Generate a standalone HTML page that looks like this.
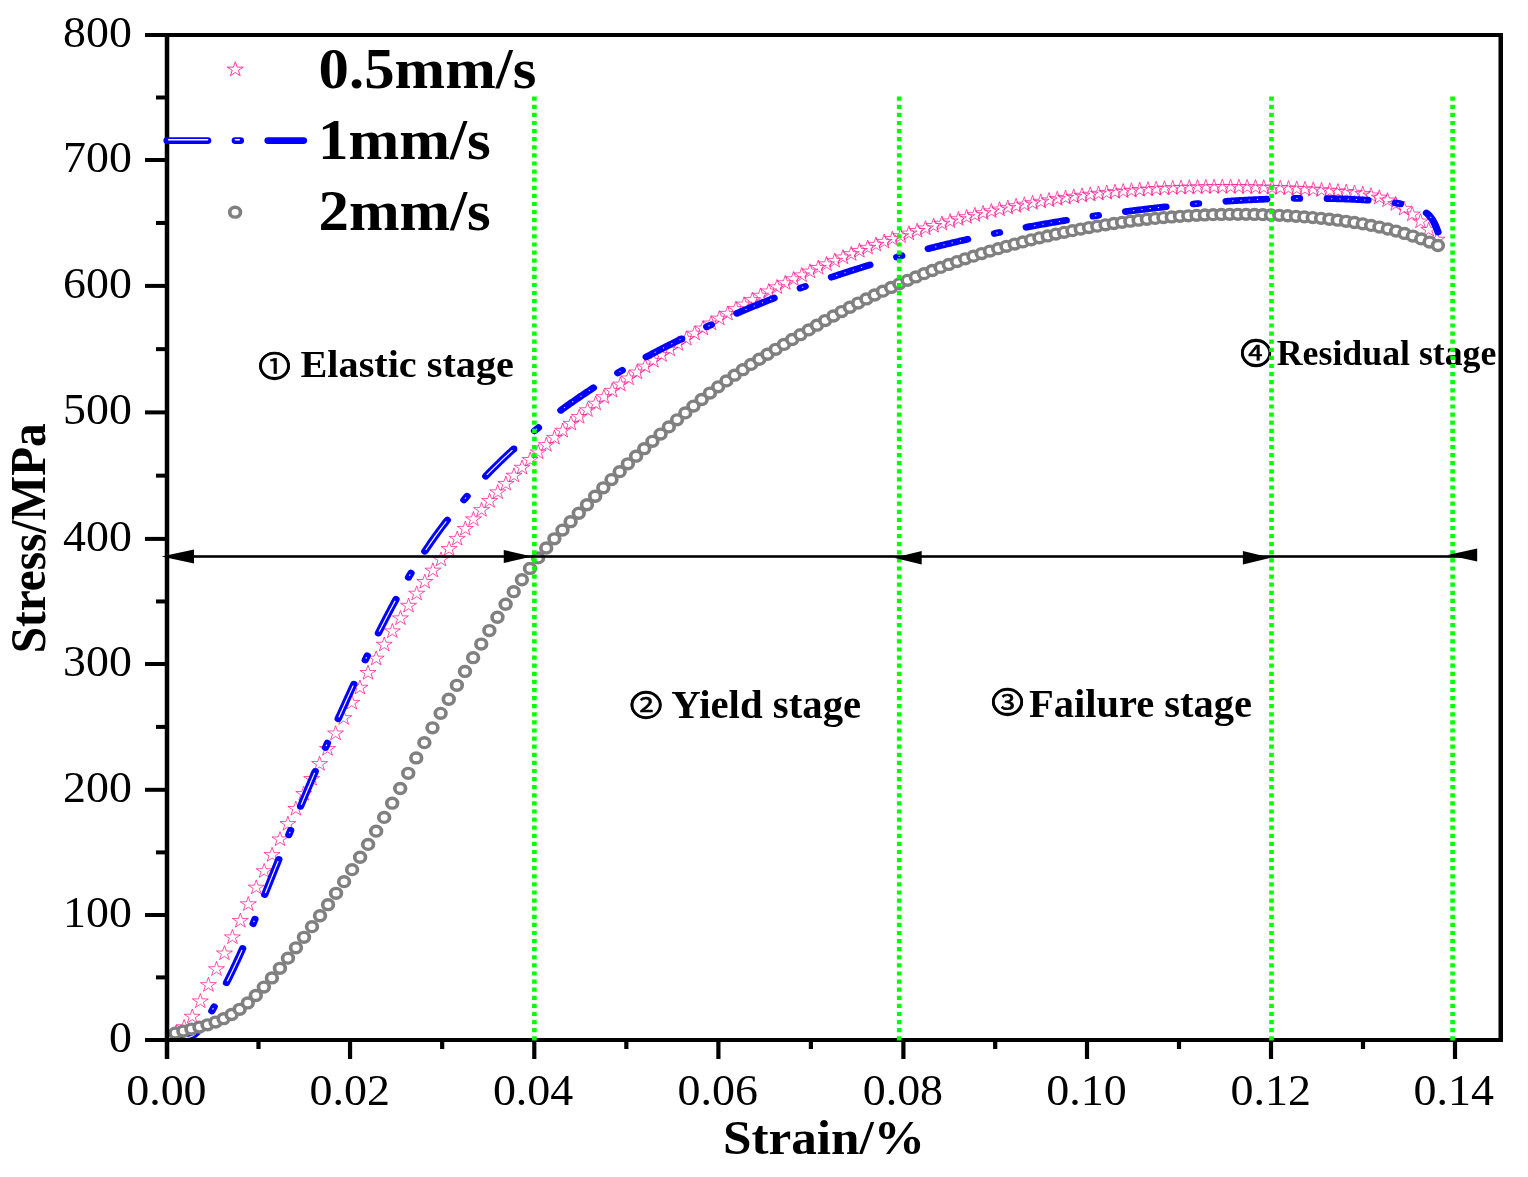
<!DOCTYPE html><html><head><meta charset="utf-8"><title>Stress-strain curves</title><style>html,body{margin:0;padding:0;background:#fff;overflow:hidden}svg{display:block}</style></head><body>
<svg width="1528" height="1177" viewBox="0 0 1528 1177">
<rect x="0" y="0" width="1528" height="1177" fill="#fff"/>
<defs><clipPath id="pc"><rect x="167" y="35" width="1333" height="1005"/></clipPath></defs>
<g clip-path="url(#pc)">
<g transform="scale(1.085 1)">
<path d="M154.84 1029.17 L156.58 1034.53 L162.21 1034.53 L157.65 1037.84 L159.39 1043.19 L154.84 1039.88 L150.28 1043.19 L152.02 1037.84 L147.47 1034.53 L153.1 1034.53Z M162.29 1025.03 L164.03 1030.39 L169.66 1030.39 L165.1 1033.7 L166.84 1039.05 L162.29 1035.74 L157.73 1039.05 L159.47 1033.7 L154.92 1030.39 L160.55 1030.39Z M169.74 1019.41 L171.48 1024.76 L177.11 1024.76 L172.55 1028.07 L174.29 1033.43 L169.74 1030.12 L165.18 1033.43 L166.92 1028.07 L162.37 1024.76 L168 1024.76Z M177.19 1008.96 L178.93 1014.32 L184.56 1014.32 L180 1017.63 L181.74 1022.98 L177.19 1019.67 L172.63 1022.98 L174.37 1017.63 L169.82 1014.32 L175.45 1014.32Z M184.64 993.56 L186.38 998.91 L192.01 998.91 L187.45 1002.22 L189.19 1007.58 L184.64 1004.27 L180.08 1007.58 L181.82 1002.22 L177.27 998.91 L182.9 998.91Z M192.09 977.29 L193.83 982.64 L199.46 982.64 L194.9 985.95 L196.64 991.31 L192.09 988 L187.53 991.31 L189.27 985.95 L184.72 982.64 L190.35 982.64Z M199.54 961.38 L201.28 966.73 L206.91 966.73 L202.35 970.04 L204.09 975.4 L199.54 972.09 L194.98 975.4 L196.72 970.04 L192.17 966.73 L197.8 966.73Z M206.87 945.66 L208.61 951.02 L214.24 951.02 L209.68 954.33 L211.42 959.68 L206.87 956.37 L202.31 959.68 L204.05 954.33 L199.5 951.02 L205.13 951.02Z M214.19 929.55 L215.93 934.91 L221.56 934.91 L217.01 938.22 L218.75 943.57 L214.19 940.26 L209.64 943.57 L211.38 938.22 L206.82 934.91 L212.45 934.91Z M221.52 913.09 L223.26 918.45 L228.89 918.45 L224.34 921.76 L226.08 927.11 L221.52 923.8 L216.97 927.11 L218.71 921.76 L214.15 918.45 L219.78 918.45Z M228.85 896.45 L230.59 901.81 L236.22 901.81 L231.66 905.12 L233.4 910.47 L228.85 907.16 L224.29 910.47 L226.03 905.12 L221.48 901.81 L227.11 901.81Z M236.18 879.8 L237.91 885.16 L243.55 885.16 L238.99 888.47 L240.73 893.82 L236.18 890.51 L231.62 893.82 L233.36 888.47 L228.8 885.16 L234.44 885.16Z M243.47 863.38 L245.21 868.74 L250.84 868.74 L246.29 872.05 L248.03 877.4 L243.47 874.09 L238.92 877.4 L240.66 872.05 L236.1 868.74 L241.73 868.74Z M250.77 847.28 L252.51 852.64 L258.14 852.64 L253.58 855.95 L255.32 861.3 L250.77 857.99 L246.21 861.3 L247.95 855.95 L243.4 852.64 L249.03 852.64Z M258.06 831.59 L259.8 836.94 L265.44 836.94 L260.88 840.25 L262.62 845.61 L258.06 842.3 L253.51 845.61 L255.25 840.25 L250.69 836.94 L256.32 836.94Z M265.36 816.22 L267.1 821.58 L272.73 821.58 L268.18 824.89 L269.92 830.24 L265.36 826.93 L260.81 830.24 L262.55 824.89 L257.99 821.58 L263.62 821.58Z M272.66 801.1 L274.4 806.46 L280.03 806.45 L275.47 809.76 L277.21 815.12 L272.66 811.81 L268.1 815.12 L269.84 809.76 L265.29 806.45 L270.92 806.46Z M279.95 786.12 L281.69 791.48 L287.32 791.48 L282.77 794.79 L284.51 800.14 L279.95 796.83 L275.4 800.14 L277.14 794.79 L272.58 791.48 L278.21 791.48Z M287.25 771.2 L288.99 776.55 L294.62 776.55 L290.07 779.86 L291.81 785.22 L287.25 781.91 L282.7 785.22 L284.44 779.86 L279.88 776.55 L285.51 776.55Z M294.55 756.23 L296.29 761.59 L301.92 761.59 L297.36 764.9 L299.1 770.25 L294.55 766.94 L289.99 770.25 L291.73 764.9 L287.18 761.59 L292.81 761.59Z M301.84 741.17 L303.58 746.53 L309.21 746.53 L304.66 749.84 L306.4 755.19 L301.84 751.88 L297.29 755.19 L299.03 749.84 L294.47 746.53 L300.1 746.53Z M309.32 725.71 L311.06 731.06 L316.69 731.06 L312.13 734.37 L313.87 739.73 L309.32 736.42 L304.76 739.73 L306.5 734.37 L301.94 731.06 L307.58 731.06Z M316.79 710.28 L318.53 715.64 L324.16 715.64 L319.6 718.95 L321.34 724.3 L316.79 720.99 L312.23 724.3 L313.97 718.95 L309.42 715.64 L315.05 715.64Z M324.26 695 L326 700.35 L331.63 700.35 L327.07 703.66 L328.81 709.01 L324.26 705.71 L319.7 709.01 L321.44 703.66 L316.89 700.35 L322.52 700.35Z M331.73 679.93 L333.47 685.28 L339.1 685.28 L334.55 688.59 L336.29 693.95 L331.73 690.64 L327.18 693.95 L328.92 688.59 L324.36 685.28 L329.99 685.28Z M339.2 665.17 L340.94 670.53 L346.57 670.53 L342.02 673.84 L343.76 679.19 L339.2 675.88 L334.65 679.19 L336.39 673.84 L331.83 670.53 L337.46 670.53Z M346.68 650.82 L348.42 656.18 L354.05 656.18 L349.49 659.49 L351.23 664.84 L346.68 661.53 L342.12 664.84 L343.86 659.49 L339.3 656.18 L344.94 656.18Z M354.15 636.93 L355.89 642.29 L361.52 642.29 L356.96 645.6 L358.7 650.95 L354.15 647.64 L349.59 650.95 L351.33 645.6 L346.78 642.29 L352.41 642.29Z M361.62 623.51 L363.36 628.86 L368.99 628.86 L364.43 632.17 L366.17 637.53 L361.62 634.22 L357.06 637.53 L358.8 632.17 L354.25 628.86 L359.88 628.86Z M369.09 610.53 L370.83 615.89 L376.46 615.89 L371.91 619.2 L373.65 624.55 L369.09 621.24 L364.54 624.55 L366.28 619.2 L361.72 615.89 L367.35 615.89Z M376.56 597.99 L378.3 603.34 L383.93 603.34 L379.38 606.65 L381.12 612.01 L376.56 608.7 L372.01 612.01 L373.75 606.65 L369.19 603.34 L374.82 603.34Z M384.04 585.86 L385.78 591.22 L391.41 591.22 L386.85 594.53 L388.59 599.88 L384.04 596.57 L379.48 599.88 L381.22 594.53 L376.66 591.22 L382.3 591.22Z M391.51 574.14 L393.25 579.5 L398.88 579.5 L394.32 582.81 L396.06 588.16 L391.51 584.85 L386.95 588.16 L388.69 582.81 L384.14 579.5 L389.77 579.5Z M398.98 562.81 L400.72 568.17 L406.35 568.17 L401.79 571.48 L403.53 576.83 L398.98 573.52 L394.42 576.83 L396.16 571.48 L391.61 568.17 L397.24 568.17Z M406.45 551.86 L408.19 557.21 L413.82 557.21 L409.27 560.52 L411.01 565.88 L406.45 562.57 L401.9 565.88 L403.64 560.52 L399.08 557.21 L404.71 557.21Z M413.92 541.27 L415.66 546.62 L421.29 546.62 L416.74 549.93 L418.48 555.29 L413.92 551.98 L409.37 555.29 L411.11 549.93 L406.55 546.62 L412.18 546.62Z M421.4 531.02 L423.14 536.38 L428.77 536.38 L424.21 539.69 L425.95 545.04 L421.4 541.73 L416.84 545.04 L418.58 539.69 L414.02 536.38 L419.66 536.38Z M428.87 521.11 L430.61 526.47 L436.24 526.47 L431.68 529.78 L433.42 535.13 L428.87 531.82 L424.31 535.13 L426.05 529.78 L421.5 526.47 L427.13 526.47Z M436.34 511.53 L438.08 516.88 L443.71 516.88 L439.15 520.19 L440.9 525.55 L436.34 522.24 L431.78 525.55 L433.52 520.19 L428.97 516.88 L434.6 516.88Z M443.81 502.24 L445.55 507.6 L451.18 507.6 L446.63 510.91 L448.37 516.26 L443.81 512.95 L439.26 516.26 L441 510.91 L436.44 507.6 L442.07 507.6Z M451.28 493.25 L453.02 498.6 L458.65 498.6 L454.1 501.91 L455.84 507.27 L451.28 503.96 L446.73 507.27 L448.47 501.91 L443.91 498.6 L449.54 498.6Z M458.76 484.53 L460.5 489.89 L466.13 489.89 L461.57 493.2 L463.31 498.55 L458.76 495.24 L454.2 498.55 L455.94 493.2 L451.39 489.89 L457.02 489.89Z M466.23 476.08 L467.97 481.43 L473.6 481.43 L469.04 484.74 L470.78 490.1 L466.23 486.79 L461.67 490.1 L463.41 484.74 L458.86 481.43 L464.49 481.43Z M473.7 467.87 L475.44 473.23 L481.07 473.23 L476.51 476.54 L478.26 481.89 L473.7 478.58 L469.14 481.89 L470.88 476.54 L466.33 473.23 L471.96 473.23Z M481.17 459.9 L482.91 465.26 L488.54 465.26 L483.99 468.57 L485.73 473.92 L481.17 470.61 L476.62 473.92 L478.36 468.57 L473.8 465.26 L479.43 465.26Z M488.64 452.15 L490.38 457.51 L496.01 457.51 L491.46 460.82 L493.2 466.17 L488.64 462.86 L484.09 466.17 L485.83 460.82 L481.27 457.51 L486.9 457.51Z M496.12 444.61 L497.86 449.96 L503.49 449.96 L498.93 453.27 L500.67 458.63 L496.12 455.32 L491.56 458.63 L493.3 453.27 L488.75 449.96 L494.38 449.96Z M503.59 437.25 L505.33 442.61 L510.96 442.61 L506.4 445.92 L508.14 451.27 L503.59 447.96 L499.03 451.27 L500.77 445.92 L496.22 442.61 L501.85 442.61Z M511.06 430.08 L512.8 435.43 L518.43 435.43 L513.88 438.74 L515.62 444.1 L511.06 440.79 L506.5 444.1 L508.24 438.74 L503.69 435.43 L509.32 435.43Z M518.66 422.95 L520.4 428.3 L526.03 428.3 L521.47 431.61 L523.21 436.97 L518.66 433.66 L514.1 436.97 L515.84 431.61 L511.29 428.3 L516.92 428.3Z M526.25 415.97 L527.99 421.33 L533.62 421.33 L529.07 424.64 L530.81 429.99 L526.25 426.68 L521.7 429.99 L523.44 424.64 L518.88 421.33 L524.51 421.33Z M533.85 409.14 L535.59 414.49 L541.22 414.49 L536.67 417.8 L538.41 423.16 L533.85 419.85 L529.29 423.16 L531.04 417.8 L526.48 414.49 L532.11 414.49Z M541.45 402.42 L543.19 407.78 L548.82 407.78 L544.26 411.09 L546 416.44 L541.45 413.13 L536.89 416.44 L538.63 411.09 L534.08 407.78 L539.71 407.78Z M549.04 395.83 L550.78 401.19 L556.41 401.19 L551.86 404.5 L553.6 409.85 L549.04 406.54 L544.49 409.85 L546.23 404.5 L541.67 401.19 L547.3 401.19Z M556.64 389.36 L558.38 394.72 L564.01 394.72 L559.46 398.03 L561.2 403.38 L556.64 400.07 L552.09 403.38 L553.83 398.03 L549.27 394.72 L554.9 394.72Z M564.24 383.01 L565.98 388.36 L571.61 388.36 L567.05 391.67 L568.79 397.03 L564.24 393.72 L559.68 397.03 L561.42 391.67 L556.87 388.36 L562.5 388.36Z M571.83 376.77 L573.57 382.13 L579.2 382.13 L574.65 385.44 L576.39 390.79 L571.83 387.48 L567.28 390.79 L569.02 385.44 L564.46 382.13 L570.09 382.13Z M579.43 370.65 L581.17 376.01 L586.8 376.01 L582.25 379.32 L583.99 384.67 L579.43 381.36 L574.88 384.67 L576.62 379.32 L572.06 376.01 L577.69 376.01Z M587.03 364.65 L588.77 370.01 L594.4 370.01 L589.84 373.32 L591.58 378.67 L587.03 375.36 L582.47 378.67 L584.21 373.32 L579.66 370.01 L585.29 370.01Z M594.62 358.76 L596.36 364.12 L601.99 364.12 L597.44 367.43 L599.18 372.78 L594.62 369.47 L590.07 372.78 L591.81 367.43 L587.25 364.12 L592.88 364.12Z M602.22 352.99 L603.96 358.34 L609.59 358.34 L605.04 361.65 L606.78 367.01 L602.22 363.7 L597.67 367.01 L599.41 361.65 L594.85 358.34 L600.48 358.34Z M609.82 347.33 L611.56 352.68 L617.19 352.68 L612.63 355.99 L614.37 361.35 L609.82 358.04 L605.26 361.35 L607 355.99 L602.45 352.68 L608.08 352.68Z M617.41 341.78 L619.15 347.14 L624.78 347.14 L620.23 350.45 L621.97 355.8 L617.41 352.49 L612.86 355.8 L614.6 350.45 L610.04 347.14 L615.67 347.14Z M625.01 336.34 L626.75 341.7 L632.38 341.7 L627.83 345.01 L629.57 350.36 L625.01 347.05 L620.46 350.36 L622.2 345.01 L617.64 341.7 L623.27 341.7Z M632.61 331.02 L634.35 336.37 L639.98 336.37 L635.42 339.68 L637.16 345.04 L632.61 341.73 L628.05 345.04 L629.79 339.68 L625.24 336.37 L630.87 336.37Z M640.2 325.8 L641.94 331.16 L647.58 331.16 L643.02 334.47 L644.76 339.82 L640.2 336.51 L635.65 339.82 L637.39 334.47 L632.83 331.16 L638.46 331.16Z M647.8 320.69 L649.54 326.05 L655.17 326.05 L650.62 329.36 L652.36 334.71 L647.8 331.4 L643.25 334.71 L644.99 329.36 L640.43 326.05 L646.06 326.05Z M655.4 315.69 L657.14 321.05 L662.77 321.05 L658.21 324.36 L659.95 329.71 L655.4 326.4 L650.84 329.71 L652.58 324.36 L648.03 321.05 L653.66 321.05Z M662.99 310.8 L664.73 316.15 L670.37 316.15 L665.81 319.46 L667.55 324.82 L662.99 321.51 L658.44 324.82 L660.18 319.46 L655.62 316.15 L661.25 316.15Z M670.59 306.01 L672.33 311.37 L677.96 311.37 L673.41 314.68 L675.15 320.03 L670.59 316.72 L666.04 320.03 L667.78 314.68 L663.22 311.37 L668.85 311.37Z M678.19 301.33 L679.93 306.69 L685.56 306.68 L681 309.99 L682.74 315.35 L678.19 312.04 L673.63 315.35 L675.37 309.99 L670.82 306.68 L676.45 306.69Z M685.78 296.75 L687.52 302.11 L693.16 302.11 L688.6 305.42 L690.34 310.77 L685.78 307.46 L681.23 310.77 L682.97 305.42 L678.41 302.11 L684.05 302.11Z M693.38 292.28 L695.12 297.63 L700.75 297.63 L696.2 300.94 L697.94 306.3 L693.38 302.99 L688.83 306.3 L690.57 300.94 L686.01 297.63 L691.64 297.63Z M700.98 287.91 L702.72 293.26 L708.35 293.26 L703.79 296.57 L705.53 301.93 L700.98 298.62 L696.42 301.93 L698.16 296.57 L693.61 293.26 L699.24 293.26Z M708.58 283.64 L710.32 288.99 L715.95 288.99 L711.39 292.3 L713.13 297.66 L708.58 294.35 L704.02 297.66 L705.76 292.3 L701.2 288.99 L706.84 288.99Z M716.17 279.47 L717.91 284.82 L723.54 284.82 L718.99 288.13 L720.73 293.49 L716.17 290.18 L711.62 293.49 L713.36 288.13 L708.8 284.82 L714.43 284.82Z M723.77 275.4 L725.51 280.75 L731.14 280.75 L726.58 284.06 L728.32 289.42 L723.77 286.11 L719.21 289.42 L720.95 284.06 L716.4 280.75 L722.03 280.75Z M731.37 271.43 L733.11 276.78 L738.74 276.78 L734.18 280.09 L735.92 285.45 L731.37 282.14 L726.81 285.45 L728.55 280.09 L723.99 276.78 L729.63 276.78Z M738.96 267.55 L740.7 272.91 L746.33 272.91 L741.78 276.22 L743.52 281.57 L738.96 278.26 L734.41 281.57 L736.15 276.22 L731.59 272.91 L737.22 272.91Z M746.56 263.78 L748.3 269.13 L753.93 269.13 L749.37 272.44 L751.11 277.8 L746.56 274.49 L742 277.8 L743.74 272.44 L739.19 269.13 L744.82 269.13Z M754.16 260.1 L755.9 265.45 L761.53 265.45 L756.97 268.76 L758.71 274.12 L754.16 270.81 L749.6 274.12 L751.34 268.76 L746.78 265.45 L752.42 265.45Z M761.75 256.52 L763.49 261.87 L769.12 261.87 L764.57 265.18 L766.31 270.54 L761.75 267.23 L757.2 270.54 L758.94 265.18 L754.38 261.87 L760.01 261.87Z M769.35 253.03 L771.09 258.38 L776.72 258.38 L772.16 261.69 L773.9 267.05 L769.35 263.74 L764.79 267.05 L766.53 261.69 L761.98 258.38 L767.61 258.38Z M776.95 249.63 L778.69 254.99 L784.32 254.99 L779.76 258.3 L781.5 263.65 L776.95 260.34 L772.39 263.65 L774.13 258.3 L769.58 254.99 L775.21 254.99Z M784.54 246.33 L786.28 251.68 L791.91 251.68 L787.36 254.99 L789.1 260.35 L784.54 257.04 L779.99 260.35 L781.73 254.99 L777.17 251.68 L782.8 251.68Z M792.14 243.12 L793.88 248.47 L799.51 248.47 L794.95 251.78 L796.69 257.14 L792.14 253.83 L787.58 257.14 L789.32 251.78 L784.77 248.47 L790.4 248.47Z M799.74 240 L801.48 245.35 L807.11 245.35 L802.55 248.66 L804.29 254.02 L799.74 250.71 L795.18 254.02 L796.92 248.66 L792.37 245.35 L798 245.35Z M807.33 236.97 L809.07 242.32 L814.7 242.32 L810.15 245.63 L811.89 250.99 L807.33 247.68 L802.78 250.99 L804.52 245.63 L799.96 242.32 L805.59 242.32Z M814.93 234.03 L816.67 239.38 L822.3 239.38 L817.74 242.69 L819.48 248.04 L814.93 244.74 L810.37 248.04 L812.11 242.69 L807.56 239.38 L813.19 239.38Z M822.53 231.17 L824.27 236.53 L829.9 236.53 L825.34 239.84 L827.08 245.19 L822.53 241.88 L817.97 245.19 L819.71 239.84 L815.16 236.53 L820.79 236.53Z M830.12 228.41 L831.86 233.76 L837.49 233.76 L832.94 237.07 L834.68 242.43 L830.12 239.12 L825.57 242.43 L827.31 237.07 L822.75 233.76 L828.38 233.76Z M837.72 225.73 L839.46 231.08 L845.09 231.08 L840.53 234.39 L842.28 239.75 L837.72 236.44 L833.16 239.75 L834.9 234.39 L830.35 231.08 L835.98 231.08Z M845.32 223.13 L847.06 228.49 L852.69 228.49 L848.13 231.8 L849.87 237.15 L845.32 233.84 L840.76 237.15 L842.5 231.8 L837.95 228.49 L843.58 228.49Z M852.91 220.63 L854.65 225.98 L860.28 225.98 L855.73 229.29 L857.47 234.65 L852.91 231.34 L848.36 234.65 L850.1 229.29 L845.54 225.98 L851.17 225.98Z M860.51 218.2 L862.25 223.56 L867.88 223.56 L863.33 226.87 L865.07 232.22 L860.51 228.91 L855.95 232.22 L857.69 226.87 L853.14 223.56 L858.77 223.56Z M868.11 215.86 L869.85 221.22 L875.48 221.21 L870.92 224.52 L872.66 229.88 L868.11 226.57 L863.55 229.88 L865.29 224.52 L860.74 221.21 L866.37 221.22Z M875.7 213.6 L877.44 218.96 L883.07 218.96 L878.52 222.26 L880.26 227.62 L875.7 224.31 L871.15 227.62 L872.89 222.26 L868.33 218.96 L873.96 218.96Z M883.3 211.42 L885.04 216.78 L890.67 216.78 L886.12 220.09 L887.86 225.44 L883.3 222.13 L878.74 225.44 L880.49 220.09 L875.93 216.78 L881.56 216.78Z M890.9 209.32 L892.64 214.68 L898.27 214.68 L893.71 217.99 L895.45 223.34 L890.9 220.03 L886.34 223.34 L888.08 217.99 L883.53 214.68 L889.16 214.68Z M898.49 207.3 L900.23 212.66 L905.86 212.66 L901.31 215.97 L903.05 221.32 L898.49 218.01 L893.94 221.32 L895.68 215.97 L891.12 212.66 L896.75 212.66Z M906.09 205.36 L907.83 210.72 L913.46 210.72 L908.91 214.03 L910.65 219.38 L906.09 216.07 L901.54 219.38 L903.28 214.03 L898.72 210.72 L904.35 210.72Z M913.69 203.5 L915.43 208.86 L921.06 208.86 L916.5 212.17 L918.24 217.52 L913.69 214.21 L909.13 217.52 L910.87 212.17 L906.32 208.86 L911.95 208.86Z M921.28 201.71 L923.02 207.07 L928.65 207.07 L924.1 210.38 L925.84 215.73 L921.28 212.42 L916.73 215.73 L918.47 210.38 L913.91 207.07 L919.54 207.07Z M928.88 200 L930.62 205.36 L936.25 205.36 L931.7 208.67 L933.44 214.02 L928.88 210.71 L924.33 214.02 L926.07 208.67 L921.51 205.36 L927.14 205.36Z M936.48 198.37 L938.22 203.72 L943.85 203.72 L939.29 207.03 L941.03 212.39 L936.48 209.08 L931.92 212.39 L933.66 207.03 L929.11 203.72 L934.74 203.72Z M944.07 196.81 L945.81 202.16 L951.44 202.16 L946.89 205.47 L948.63 210.83 L944.07 207.52 L939.52 210.83 L941.26 205.47 L936.7 202.16 L942.33 202.16Z M951.67 195.32 L953.41 200.67 L959.04 200.67 L954.49 203.98 L956.23 209.34 L951.67 206.03 L947.12 209.34 L948.86 203.98 L944.3 200.67 L949.93 200.67Z M959.27 193.9 L961.01 199.26 L966.64 199.26 L962.08 202.57 L963.82 207.92 L959.27 204.61 L954.71 207.92 L956.45 202.57 L951.9 199.26 L957.53 199.26Z M966.86 192.56 L968.6 197.91 L974.24 197.91 L969.68 201.22 L971.42 206.58 L966.86 203.27 L962.31 206.58 L964.05 201.22 L959.49 197.91 L965.12 197.91Z M974.46 191.28 L976.2 196.64 L981.83 196.64 L977.28 199.95 L979.02 205.3 L974.46 201.99 L969.91 205.3 L971.65 199.95 L967.09 196.64 L972.72 196.64Z M982.06 190.08 L983.8 195.43 L989.43 195.43 L984.87 198.74 L986.61 204.1 L982.06 200.79 L977.5 204.1 L979.24 198.74 L974.69 195.43 L980.32 195.43Z M989.65 188.94 L991.39 194.3 L997.03 194.3 L992.47 197.61 L994.21 202.96 L989.65 199.65 L985.1 202.96 L986.84 197.61 L982.28 194.3 L987.91 194.3Z M997.25 187.87 L998.99 193.23 L1004.62 193.23 L1000.07 196.54 L1001.81 201.89 L997.25 198.58 L992.7 201.89 L994.44 196.54 L989.88 193.23 L995.51 193.23Z M1004.85 186.87 L1006.59 192.23 L1012.22 192.23 L1007.66 195.54 L1009.4 200.89 L1004.85 197.58 L1000.29 200.89 L1002.03 195.54 L997.48 192.23 L1003.11 192.23Z M1012.44 185.94 L1014.18 191.29 L1019.82 191.29 L1015.26 194.6 L1017 199.96 L1012.44 196.65 L1007.89 199.96 L1009.63 194.6 L1005.07 191.29 L1010.71 191.29Z M1020.04 185.07 L1021.78 190.42 L1027.41 190.42 L1022.86 193.73 L1024.6 199.09 L1020.04 195.78 L1015.49 199.09 L1017.23 193.73 L1012.67 190.42 L1018.3 190.42Z M1027.64 184.26 L1029.38 189.61 L1035.01 189.61 L1030.45 192.92 L1032.19 198.28 L1027.64 194.97 L1023.08 198.28 L1024.82 192.92 L1020.27 189.61 L1025.9 189.61Z M1035.24 183.52 L1036.97 188.87 L1042.61 188.87 L1038.05 192.18 L1039.79 197.54 L1035.24 194.23 L1030.68 197.54 L1032.42 192.18 L1027.86 188.87 L1033.5 188.87Z M1042.83 182.84 L1044.57 188.19 L1050.2 188.19 L1045.65 191.5 L1047.39 196.86 L1042.83 193.55 L1038.28 196.86 L1040.02 191.5 L1035.46 188.19 L1041.09 188.19Z M1050.43 182.22 L1052.17 187.57 L1057.8 187.57 L1053.24 190.88 L1054.98 196.24 L1050.43 192.93 L1045.87 196.24 L1047.61 190.88 L1043.06 187.57 L1048.69 187.57Z M1058.03 181.66 L1059.77 187.01 L1065.4 187.01 L1060.84 190.32 L1062.58 195.68 L1058.03 192.37 L1053.47 195.68 L1055.21 190.32 L1050.65 187.01 L1056.29 187.01Z M1065.62 181.16 L1067.36 186.52 L1072.99 186.52 L1068.44 189.83 L1070.18 195.18 L1065.62 191.87 L1061.07 195.18 L1062.81 189.83 L1058.25 186.52 L1063.88 186.52Z M1073.25 180.72 L1074.99 186.07 L1080.62 186.07 L1076.06 189.38 L1077.8 194.74 L1073.25 191.43 L1068.69 194.74 L1070.43 189.38 L1065.87 186.07 L1071.51 186.07Z M1080.87 180.34 L1082.61 185.69 L1088.24 185.69 L1083.68 189 L1085.42 194.36 L1080.87 191.05 L1076.31 194.36 L1078.05 189 L1073.5 185.69 L1079.13 185.69Z M1088.49 180.01 L1090.23 185.37 L1095.86 185.37 L1091.31 188.68 L1093.05 194.03 L1088.49 190.72 L1083.94 194.03 L1085.68 188.68 L1081.12 185.37 L1086.75 185.37Z M1096.12 179.74 L1097.86 185.1 L1103.49 185.1 L1098.93 188.41 L1100.67 193.76 L1096.12 190.45 L1091.56 193.76 L1093.3 188.41 L1088.75 185.1 L1094.38 185.1Z M1103.74 179.53 L1105.48 184.88 L1111.11 184.88 L1106.55 188.19 L1108.29 193.55 L1103.74 190.24 L1099.18 193.55 L1100.92 188.19 L1096.37 184.88 L1102 184.88Z M1111.36 179.37 L1113.1 184.73 L1118.73 184.73 L1114.18 188.03 L1115.92 193.39 L1111.36 190.08 L1106.81 193.39 L1108.55 188.03 L1103.99 184.73 L1109.62 184.73Z M1118.99 179.26 L1120.73 184.62 L1126.36 184.62 L1121.8 187.93 L1123.54 193.28 L1118.99 189.97 L1114.43 193.28 L1116.17 187.93 L1111.62 184.62 L1117.25 184.62Z M1126.61 179.21 L1128.35 184.57 L1133.98 184.57 L1129.42 187.88 L1131.16 193.23 L1126.61 189.92 L1122.05 193.23 L1123.79 187.88 L1119.24 184.57 L1124.87 184.57Z M1134.23 179.21 L1135.97 184.57 L1141.6 184.57 L1137.05 187.88 L1138.79 193.23 L1134.23 189.92 L1129.68 193.23 L1131.42 187.88 L1126.86 184.57 L1132.49 184.57Z M1141.86 179.26 L1143.6 184.62 L1149.23 184.62 L1144.67 187.93 L1146.41 193.28 L1141.86 189.97 L1137.3 193.28 L1139.04 187.93 L1134.49 184.62 L1140.12 184.62Z M1149.48 179.36 L1151.22 184.72 L1156.85 184.72 L1152.3 188.03 L1154.04 193.38 L1149.48 190.07 L1144.92 193.38 L1146.66 188.03 L1142.11 184.72 L1147.74 184.72Z M1157.1 179.51 L1158.84 184.87 L1164.47 184.87 L1159.92 188.18 L1161.66 193.53 L1157.1 190.22 L1152.55 193.53 L1154.29 188.18 L1149.73 184.87 L1155.36 184.87Z M1164.73 179.71 L1166.47 185.07 L1172.1 185.07 L1167.54 188.38 L1169.28 193.73 L1164.73 190.42 L1160.17 193.73 L1161.91 188.38 L1157.36 185.07 L1162.99 185.07Z M1172.35 179.96 L1174.09 185.31 L1179.72 185.31 L1175.17 188.62 L1176.91 193.98 L1172.35 190.67 L1167.79 193.98 L1169.54 188.62 L1164.98 185.31 L1170.61 185.31Z M1179.95 180.25 L1181.69 185.6 L1187.32 185.6 L1182.77 188.91 L1184.51 194.27 L1179.95 190.96 L1175.4 194.27 L1177.14 188.91 L1172.58 185.6 L1178.21 185.6Z M1187.56 180.58 L1189.3 185.94 L1194.93 185.94 L1190.37 189.25 L1192.11 194.6 L1187.56 191.29 L1183 194.6 L1184.74 189.25 L1180.19 185.94 L1185.82 185.94Z M1195.16 180.96 L1196.9 186.32 L1202.53 186.32 L1197.98 189.63 L1199.72 194.98 L1195.16 191.67 L1190.61 194.98 L1192.35 189.63 L1187.79 186.32 L1193.42 186.32Z M1202.76 181.39 L1204.5 186.74 L1210.14 186.74 L1205.58 190.05 L1207.32 195.41 L1202.76 192.1 L1198.21 195.41 L1199.95 190.05 L1195.39 186.74 L1201.03 186.74Z M1210.37 181.85 L1212.11 187.21 L1217.74 187.21 L1213.18 190.52 L1214.92 195.87 L1210.37 192.56 L1205.81 195.87 L1207.55 190.52 L1203 187.21 L1208.63 187.21Z M1217.97 182.36 L1219.71 187.72 L1225.34 187.72 L1220.79 191.03 L1222.53 196.38 L1217.97 193.07 L1213.42 196.38 L1215.16 191.03 L1210.6 187.72 L1216.23 187.72Z M1225.58 182.91 L1227.32 188.27 L1232.95 188.27 L1228.39 191.58 L1230.13 196.93 L1225.58 193.62 L1221.02 196.93 L1222.76 191.58 L1218.21 188.27 L1223.84 188.27Z M1233.18 183.5 L1234.92 188.86 L1240.55 188.86 L1235.99 192.16 L1237.74 197.52 L1233.18 194.21 L1228.62 197.52 L1230.36 192.16 L1225.81 188.86 L1231.44 188.86Z M1240.78 184.15 L1242.52 189.51 L1248.15 189.51 L1243.6 192.82 L1245.34 198.17 L1240.78 194.86 L1236.23 198.17 L1237.97 192.82 L1233.41 189.51 L1239.04 189.51Z M1248.39 184.97 L1250.13 190.33 L1255.76 190.33 L1251.2 193.64 L1252.94 198.99 L1248.39 195.68 L1243.83 198.99 L1245.57 193.64 L1241.02 190.33 L1246.65 190.33Z M1255.99 186.1 L1257.73 191.46 L1263.36 191.46 L1258.81 194.77 L1260.55 200.12 L1255.99 196.81 L1251.44 200.12 L1253.18 194.77 L1248.62 191.46 L1254.25 191.46Z M1263.59 187.67 L1265.33 193.02 L1270.97 193.02 L1266.41 196.33 L1268.15 201.69 L1263.59 198.38 L1259.04 201.69 L1260.78 196.33 L1256.22 193.02 L1261.85 193.02Z M1271.2 189.81 L1272.94 195.16 L1278.57 195.16 L1274.01 198.47 L1275.75 203.83 L1271.2 200.52 L1266.64 203.83 L1268.38 198.47 L1263.83 195.16 L1269.46 195.16Z M1278.8 192.65 L1280.54 198 L1286.17 198 L1281.62 201.31 L1283.36 206.67 L1278.8 203.36 L1274.25 206.67 L1275.99 201.31 L1271.43 198 L1277.06 198Z M1286.41 196.32 L1288.15 201.68 L1293.78 201.68 L1289.22 204.99 L1290.96 210.34 L1286.41 207.03 L1281.85 210.34 L1283.59 204.99 L1279.03 201.68 L1284.67 201.68Z M1294.01 200.97 L1295.75 206.32 L1301.38 206.32 L1296.82 209.63 L1298.56 214.99 L1294.01 211.68 L1289.45 214.99 L1291.19 209.63 L1286.64 206.32 L1292.27 206.32Z M1301.61 206.71 L1303.35 212.07 L1308.98 212.07 L1304.43 215.38 L1306.17 220.73 L1301.61 217.42 L1297.06 220.73 L1298.8 215.38 L1294.24 212.07 L1299.87 212.07Z M1309.22 213.69 L1310.96 219.05 L1316.59 219.05 L1312.03 222.35 L1313.77 227.71 L1309.22 224.4 L1304.66 227.71 L1306.4 222.35 L1301.85 219.05 L1307.48 219.05Z M1316.82 222.03 L1318.56 227.39 L1324.19 227.39 L1319.64 230.7 L1321.38 236.05 L1316.82 232.74 L1312.26 236.05 L1314.01 230.7 L1309.45 227.39 L1315.08 227.39Z M1324.42 231.87 L1326.16 237.23 L1331.79 237.23 L1327.24 240.54 L1328.98 245.89 L1324.42 242.58 L1319.87 245.89 L1321.61 240.54 L1317.05 237.23 L1322.68 237.23Z" fill="none" stroke="#ff1090" stroke-width="0.7" stroke-linejoin="miter"/>
<path d="M168.66 1036.22 L168.66 1036.22 L169.74 1036.75 L170.88 1037.13 L172.06 1037.33 L173.26 1037.32 L174.44 1037.13 L175.59 1036.78 L176.68 1036.29 L177.72 1035.69 L178.71 1035.01 L179.65 1034.26 L180.54 1033.46 L181.38 1032.63M195.23 1011.04 L195.54 1010.43 L196.08 1009.36 L196.62 1008.29 L197.15 1007.21 L197.38 1006.75M208.73 982.81 L208.98 982.28 L209.48 981.18 L209.97 980.09 L210.47 979 L210.97 977.91 L211.46 976.82 L211.96 975.72 L212.45 974.63 L212.94 973.53 L213.43 972.44 L213.92 971.34 L214.4 970.24 L214.89 969.14 L215.37 968.05 L215.85 966.95 L216.33 965.85 L216.81 964.75 L217.29 963.64 L217.76 962.54 L218.23 961.44 L218.71 960.34 L219.17 959.23 L219.64 958.13 L220.11 957.02 L220.57 955.92 L221.04 954.81 L221.5 953.7 L221.96 952.59 L222.42 951.48 L222.87 950.37 L223.33 949.26 L223.67 948.41M233.26 923.72 L233.33 923.54 L233.75 922.42 L234.17 921.29 L234.59 920.17 L234.94 919.22M244 894.56 L244.11 894.26 L244.52 893.13 L244.93 892.01 L245.35 890.88 L245.76 889.75 L246.17 888.63 L246.59 887.5 L247 886.38 L247.42 885.25 L247.83 884.12 L248.25 883 L248.66 881.87 L249.08 880.74 L249.49 879.62 L249.91 878.49 L250.32 877.37 L250.74 876.24 L251.15 875.12 L251.57 873.99 L251.98 872.86 L252.4 871.74 L252.82 870.61 L253.23 869.49 L253.65 868.36 L254.07 867.24 L254.49 866.11 L254.9 864.99 L255.32 863.86 L255.74 862.74 L256.16 861.61 L256.57 860.49 L256.99 859.38M266.2 834.77 L266.25 834.64 L266.68 833.52 L267.1 832.4 L267.52 831.27 L267.9 830.28M277.02 806.33 L277.34 805.48 L277.77 804.36 L278.2 803.24 L278.63 802.12 L279.06 801 L279.5 799.88 L279.93 798.76 L280.36 797.64 L280.79 796.52 L281.22 795.4 L281.66 794.28 L282.09 793.16 L282.52 792.04 L282.95 790.92 L283.39 789.8 L283.82 788.68 L284.26 787.57 L284.69 786.45 L285.13 785.33 L285.56 784.21 L286 783.09 L286.43 781.97 L286.87 780.86 L287.3 779.74 L287.74 778.62 L288.18 777.5 L288.61 776.39 L289.05 775.27 L289.49 774.15 L289.93 773.03 L290.37 771.92 L290.58 771.37M300.03 747.55 L300.1 747.38 L300.54 746.26 L300.99 745.15 L301.44 744.03 L301.82 743.09M311.7 718.77 L311.82 718.46 L312.28 717.35 L312.74 716.24 L313.2 715.13 L313.65 714.03 L314.11 712.92 L314.57 711.81 L315.03 710.7 L315.49 709.59 L315.95 708.48 L316.41 707.37 L316.87 706.27 L317.33 705.16 L317.79 704.05 L318.25 702.94 L318.72 701.84 L319.18 700.73 L319.64 699.62 L320.11 698.51 L320.57 697.41 L321.04 696.3 L321.5 695.2 L321.97 694.09 L322.43 692.98 L322.9 691.88 L323.37 690.77 L323.84 689.67 L324.3 688.56 L324.77 687.46 L325.24 686.35 L325.71 685.25 L326.17 684.18M336.59 660.09 L336.67 659.92 L337.15 658.82 L337.63 657.72 L338.12 656.62 L338.53 655.7M348.74 633.09 L348.98 632.56 L349.49 631.47 L349.99 630.39 L350.5 629.3 L351.01 628.21 L351.51 627.12 L352.02 626.04 L352.53 624.95 L353.04 623.86 L353.56 622.78 L354.07 621.69 L354.58 620.61 L355.1 619.53 L355.61 618.44 L356.13 617.36 L356.65 616.28 L357.17 615.2 L357.69 614.12 L358.21 613.03 L358.74 611.96 L359.26 610.88 L359.79 609.8 L360.31 608.72 L360.84 607.64 L361.37 606.57 L361.9 605.49 L362.44 604.41 L362.97 603.34 L363.5 602.26 L364.04 601.19 L364.58 600.12 L364.99 599.3M376.5 577.32 L376.82 576.73 L377.39 575.68 L377.97 574.62 L378.55 573.57 L378.81 573.11M391.55 551.32 L391.88 550.79 L392.51 549.76 L393.14 548.75 L393.78 547.73 L394.41 546.71 L395.05 545.7 L395.69 544.68 L396.34 543.67 L396.99 542.66 L397.63 541.65 L398.29 540.64 L398.94 539.63 L399.59 538.63 L400.25 537.63 L400.91 536.62 L401.58 535.62 L402.24 534.62 L402.91 533.63 L403.58 532.63 L404.25 531.64 L404.92 530.64 L405.6 529.65 L406.28 528.66 L406.96 527.68 L407.64 526.69 L408.33 525.7 L409.02 524.72 L409.71 523.74 L410.4 522.76 L411.1 521.78 L411.79 520.81 L412.3 520.1M427.53 499.98 L427.71 499.75 L428.46 498.81 L429.21 497.88 L429.97 496.94 L430.54 496.24M447.66 476.15 L447.86 475.93 L448.66 475.03 L449.46 474.14 L450.26 473.25 L451.07 472.36 L451.87 471.47 L452.68 470.58 L453.49 469.7 L454.3 468.82 L455.12 467.93 L455.93 467.05 L456.75 466.18 L457.57 465.3 L458.39 464.42 L459.22 463.55 L460.04 462.68 L460.87 461.81 L461.69 460.94 L462.52 460.07 L463.36 459.21 L464.19 458.35 L465.02 457.48 L465.86 456.62 L466.7 455.77 L467.54 454.91 L468.38 454.05 L469.23 453.2 L470.07 452.35 L470.92 451.5 L471.77 450.65 L472.62 449.81 L473.47 448.96 L473.48 448.96M492.68 430.86 L492.68 430.86 L493.58 430.06 L494.47 429.26 L495.37 428.46 L496.27 427.67M516.92 410.3 L517.4 409.92 L518.34 409.17 L519.28 408.42 L520.22 407.68 L521.17 406.94 L522.11 406.2 L523.06 405.46 L524.01 404.73 L524.95 403.99 L525.91 403.26 L526.86 402.53 L527.81 401.8 L528.77 401.08 L529.73 400.35 L530.69 399.63 L531.65 398.91 L532.61 398.2 L533.57 397.48 L534.54 396.77 L535.5 396.06 L536.47 395.35 L537.44 394.64 L538.41 393.93 L539.38 393.23 L540.36 392.53 L541.33 391.83 L542.31 391.13 L543.29 390.44 L544.27 389.74 L545.25 389.05 L546.23 388.36 L546.95 387.86M569.4 372.89 L570.19 372.39 L571.2 371.75 L572.22 371.11 L573.24 370.47 L573.46 370.33M595.59 356.98 L595.84 356.83 L596.88 356.23 L597.92 355.63 L598.96 355.03 L600 354.43 L601.04 353.84 L602.08 353.24 L603.12 352.65 L604.17 352.06 L605.21 351.46 L606.26 350.87 L607.3 350.29 L608.35 349.7 L609.39 349.11 L610.44 348.53 L611.49 347.94 L612.54 347.36 L613.59 346.78 L614.64 346.2 L615.69 345.62 L616.74 345.04 L617.79 344.46 L618.85 343.89 L619.9 343.31 L620.96 342.74 L622.01 342.17 L623.07 341.6 L624.12 341.03 L625.18 340.46 L626.24 339.89 L627.29 339.33 L628.35 338.76 L628.36 338.76M651.31 326.87 L651.8 326.63 L652.87 326.09 L653.94 325.55 L655.02 325.02 L655.6 324.73M679.18 313.37 L679.88 313.04 L680.97 312.53 L682.06 312.03 L683.15 311.52 L684.24 311.02 L685.33 310.52 L686.42 310.02 L687.51 309.52 L688.6 309.02 L689.69 308.52 L690.79 308.03 L691.88 307.53 L692.97 307.04 L694.07 306.55 L695.16 306.06 L696.26 305.57 L697.36 305.08 L698.45 304.59 L699.55 304.11 L700.65 303.62 L701.75 303.14 L702.84 302.66 L703.94 302.18 L705.04 301.7 L706.14 301.22 L707.25 300.74 L708.35 300.27 L709.45 299.79 L710.55 299.32 L711.66 298.85 L712.76 298.38 L713.43 298.09M737.63 288.14 L738.28 287.88 L739.4 287.44 L740.52 287 L741.63 286.56 L742.1 286.38M766.35 277.2 L767.45 276.8 L768.58 276.39 L769.7 275.98 L770.83 275.57 L771.96 275.16 L773.09 274.76 L774.22 274.35 L775.35 273.95 L776.48 273.55 L777.61 273.15 L778.75 272.75 L779.88 272.35 L781.01 271.96 L782.14 271.56 L783.28 271.17 L784.41 270.77 L785.54 270.38 L786.68 269.99 L787.81 269.6 L788.95 269.21 L790.09 268.83 L791.22 268.44 L792.36 268.06 L793.5 267.67 L794.63 267.29 L795.77 266.91 L796.91 266.53 L798.05 266.15 L799.19 265.77 L800.33 265.4 L801.47 265.02 L801.78 264.92M826.5 257.11 L826.64 257.07 L827.79 256.72 L828.94 256.38 L830.09 256.03 L831.1 255.73M855.52 248.7 L856.61 248.4 L857.77 248.09 L858.93 247.77 L860.08 247.45 L861.24 247.14 L862.4 246.82 L863.56 246.51 L864.72 246.2 L865.88 245.89 L867.04 245.58 L868.2 245.27 L869.36 244.97 L870.52 244.66 L871.68 244.36 L872.84 244.05 L874 243.75 L875.16 243.45 L876.32 243.15 L877.49 242.85 L878.65 242.55 L879.81 242.26 L880.97 241.96 L882.14 241.67 L883.3 241.37 L884.46 241.08 L885.63 240.79 L886.79 240.5 L887.96 240.21 L889.12 239.92 L890.29 239.64 L891.45 239.35 L891.81 239.26M916.55 233.47 L917.16 233.33 L918.33 233.07 L919.5 232.81 L920.67 232.55 L921.24 232.43M945.86 227.23 L946.5 227.1 L947.68 226.86 L948.86 226.63 L950.03 226.4 L951.21 226.16 L952.39 225.93 L953.56 225.7 L954.74 225.47 L955.92 225.24 L957.1 225.01 L958.28 224.78 L959.46 224.56 L960.63 224.33 L961.81 224.11 L962.99 223.88 L964.17 223.66 L965.35 223.44 L966.53 223.22 L967.71 223 L968.89 222.78 L970.07 222.56 L971.25 222.34 L972.43 222.13 L973.61 221.91 L974.79 221.7 L975.97 221.48 L977.15 221.27 L978.33 221.06 L979.52 220.85 L980.7 220.64 L981.88 220.43 L982.71 220.28M1007.54 216.12 L1007.91 216.06 L1009.1 215.87 L1010.28 215.68 L1011.47 215.5 L1012.28 215.37M1037.44 211.61 L1037.58 211.59 L1038.77 211.42 L1039.96 211.25 L1041.14 211.09 L1042.33 210.92 L1043.52 210.76 L1044.71 210.59 L1045.9 210.43 L1047.09 210.27 L1048.28 210.1 L1049.47 209.94 L1050.65 209.78 L1051.84 209.62 L1053.03 209.46 L1054.22 209.31 L1055.41 209.15 L1056.6 208.99 L1057.79 208.84 L1058.98 208.69 L1060.17 208.53 L1061.36 208.38 L1062.55 208.23 L1063.74 208.08 L1064.93 207.93 L1066.13 207.78 L1067.32 207.63 L1068.51 207.49 L1069.7 207.34 L1070.89 207.19 L1072.08 207.05 L1073.27 206.91 L1074.46 206.77 L1074.62 206.75M1099.92 203.97 L1100.71 203.9 L1101.9 203.78 L1103.1 203.66 L1104.29 203.54 L1104.69 203.51M1130.08 201.32 L1130.59 201.28 L1131.79 201.19 L1132.99 201.11 L1134.18 201.02 L1135.38 200.93 L1136.58 200.85 L1137.77 200.77 L1138.97 200.69 L1140.17 200.61 L1141.37 200.53 L1142.56 200.45 L1143.76 200.37 L1144.96 200.3 L1146.16 200.23 L1147.35 200.15 L1148.55 200.08 L1149.75 200.01 L1150.95 199.95 L1152.15 199.88 L1153.34 199.81 L1154.54 199.75 L1155.74 199.69 L1156.94 199.63 L1158.14 199.57 L1159.34 199.51 L1160.54 199.45 L1161.73 199.39 L1162.93 199.34 L1164.13 199.29 L1165.33 199.24 L1166.53 199.19 L1167.52 199.14M1192.99 198.45 L1194.12 198.44 L1195.32 198.42 L1196.52 198.41 L1197.72 198.4 L1197.79 198.4M1223.3 198.55 L1224.12 198.57 L1225.32 198.59 L1226.52 198.62 L1227.72 198.65 L1228.92 198.68 L1230.11 198.72 L1231.31 198.75 L1232.51 198.79 L1233.71 198.83 L1234.91 198.87 L1236.11 198.91 L1237.31 198.95 L1238.51 199 L1239.71 199.05 L1240.91 199.1 L1242.11 199.15 L1243.31 199.2 L1244.5 199.26 L1245.7 199.31 L1246.9 199.37 L1248.1 199.43 L1249.3 199.49 L1250.5 199.56 L1251.69 199.62 L1252.89 199.69 L1254.09 199.76 L1255.29 199.83 L1256.49 199.9 L1257.68 199.98 L1258.88 200.05 L1260.08 200.13 L1260.76 200.18M1286.12 202.88 L1286.32 202.91 L1287.5 203.13 L1288.68 203.35 L1289.85 203.59 L1290.83 203.8M1314.7 212.96 L1315.35 213.52 L1316.22 214.36 L1317.03 215.24 L1317.8 216.16 L1318.52 217.12 L1319.2 218.11 L1319.83 219.13 L1320.43 220.16 L1321 221.22 L1321.54 222.29 L1322.05 223.38 L1322.54 224.47 L1323.01 225.58 L1323.45 226.7 L1323.88 227.82 L1324.28 228.95 L1324.68 230.08 L1325.06 231.22 L1325.35 232.11" fill="none" stroke="#0000ff" stroke-width="6.7" stroke-linecap="round" stroke-linejoin="round"/>
<path d="M168.66 1036.22 L168.66 1036.22 L169.74 1036.75 L170.88 1037.13 L172.06 1037.33 L173.26 1037.32 L174.44 1037.13 L175.59 1036.78 L176.68 1036.29 L177.72 1035.69 L178.71 1035.01 L179.65 1034.26 L180.23 1033.74M196 1009.52 L196.08 1009.36 L196.39 1008.74 L196.63 1008.27M209.4 981.35 L209.48 981.18 L209.97 980.09 L210.47 979 L210.97 977.91 L211.46 976.82 L211.96 975.72 L212.45 974.63 L212.94 973.53 L213.43 972.44 L213.92 971.34 L214.4 970.24 L214.89 969.14 L215.37 968.05 L215.85 966.95 L216.33 965.85 L216.81 964.75 L217.29 963.64 L217.76 962.54 L218.23 961.44 L218.71 960.34 L219.17 959.23 L219.64 958.13 L220.11 957.02 L220.57 955.92 L221.04 954.81 L221.5 953.7 L221.96 952.59 L222.42 951.48 L222.87 950.37 L223.07 949.9M233.86 922.12 L233.89 922.04 L234.13 921.38 L234.35 920.81M244.55 893.05 L244.93 892.01 L245.35 890.88 L245.76 889.75 L246.17 888.63 L246.59 887.5 L247 886.38 L247.42 885.25 L247.83 884.12 L248.25 883 L248.66 881.87 L249.08 880.74 L249.49 879.62 L249.91 878.49 L250.32 877.37 L250.74 876.24 L251.15 875.12 L251.57 873.99 L251.98 872.86 L252.4 871.74 L252.82 870.61 L253.23 869.49 L253.65 868.36 L254.07 867.24 L254.49 866.11 L254.9 864.99 L255.32 863.86 L255.74 862.74 L256.16 861.61 L256.43 860.88M266.8 833.18 L266.96 832.77 L267.21 832.11 L267.3 831.87M277.59 804.84 L277.77 804.36 L278.2 803.24 L278.63 802.12 L279.06 801 L279.5 799.88 L279.93 798.76 L280.36 797.64 L280.79 796.52 L281.22 795.4 L281.66 794.28 L282.09 793.16 L282.52 792.04 L282.95 790.92 L283.39 789.8 L283.82 788.68 L284.26 787.57 L284.69 786.45 L285.13 785.33 L285.56 784.21 L286 783.09 L286.43 781.97 L286.87 780.86 L287.3 779.74 L287.74 778.62 L288.18 777.5 L288.61 776.39 L289.05 775.27 L289.49 774.15 L289.93 773.03 L290 772.86M300.66 745.97 L300.92 745.33 L301.18 744.68 L301.18 744.67M312.31 717.29 L312.74 716.24 L313.2 715.13 L313.65 714.03 L314.11 712.92 L314.57 711.81 L315.03 710.7 L315.49 709.59 L315.95 708.48 L316.41 707.37 L316.87 706.27 L317.33 705.16 L317.79 704.05 L318.25 702.94 L318.72 701.84 L319.18 700.73 L319.64 699.62 L320.11 698.51 L320.57 697.41 L321.04 696.3 L321.5 695.2 L321.97 694.09 L322.43 692.98 L322.9 691.88 L323.37 690.77 L323.84 689.67 L324.3 688.56 L324.77 687.46 L325.24 686.35 L325.54 685.65M337.28 658.53 L337.43 658.18 L337.71 657.54 L337.84 657.25M349.41 631.64 L349.49 631.47 L349.99 630.39 L350.5 629.3 L351.01 628.21 L351.51 627.12 L352.02 626.04 L352.53 624.95 L353.04 623.86 L353.56 622.78 L354.07 621.69 L354.58 620.61 L355.1 619.53 L355.61 618.44 L356.13 617.36 L356.65 616.28 L357.17 615.2 L357.69 614.12 L358.21 613.03 L358.74 611.96 L359.26 610.88 L359.79 609.8 L360.31 608.72 L360.84 607.64 L361.37 606.57 L361.9 605.49 L362.44 604.41 L362.97 603.34 L363.5 602.26 L364.04 601.19 L364.27 600.73M377.31 575.83 L377.39 575.68 L377.73 575.06 L377.99 574.6M392.39 549.96 L392.51 549.76 L393.14 548.75 L393.78 547.73 L394.41 546.71 L395.05 545.7 L395.69 544.68 L396.34 543.67 L396.99 542.66 L397.63 541.65 L398.29 540.64 L398.94 539.63 L399.59 538.63 L400.25 537.63 L400.91 536.62 L401.58 535.62 L402.24 534.62 L402.91 533.63 L403.58 532.63 L404.25 531.64 L404.92 530.64 L405.6 529.65 L406.28 528.66 L406.96 527.68 L407.64 526.69 L408.33 525.7 L409.02 524.72 L409.71 523.74 L410.4 522.76 L411.1 521.78 L411.37 521.4M428.59 498.65 L428.9 498.27 L429.34 497.72 L429.47 497.56M448.72 474.96 L449.46 474.14 L450.26 473.25 L451.07 472.36 L451.87 471.47 L452.68 470.58 L453.49 469.7 L454.3 468.82 L455.12 467.93 L455.93 467.05 L456.75 466.18 L457.57 465.3 L458.39 464.42 L459.22 463.55 L460.04 462.68 L460.87 461.81 L461.69 460.94 L462.52 460.07 L463.36 459.21 L464.19 458.35 L465.02 457.48 L465.86 456.62 L466.7 455.77 L467.54 454.91 L468.38 454.05 L469.23 453.2 L470.07 452.35 L470.92 451.5 L471.77 450.65 L472.34 450.09M493.95 429.73 L494.4 429.32 L494.92 428.86 L494.99 428.8" fill="none" stroke="#fff" stroke-width="1.1"/>
<path d="M519.84 407.98 L519.91 407.93 L520.3 407.62 L520.69 407.31 L520.71 407.3M527.44 402.09 L527.81 401.8 L528.21 401.5 L528.32 401.42M535.04 396.4 L535.42 396.12 L535.83 395.82 L535.93 395.74M542.64 390.9 L542.72 390.84 L543.12 390.55 L543.53 390.26 L543.54 390.26M603.44 352.47 L603.56 352.4 L603.99 352.15 L604.4 351.92M611.04 348.19 L611.4 347.99 L611.84 347.75 L612 347.66M618.64 344 L618.85 343.89 L619.29 343.65 L619.61 343.47M626.24 339.89 L626.32 339.84 L626.76 339.61 L627.21 339.37 L627.21 339.37M687.06 309.73 L687.24 309.64 L687.69 309.44 L688.06 309.27M694.66 306.28 L694.98 306.14 L695.44 305.94 L695.66 305.84M702.26 302.92 L702.3 302.9 L702.75 302.7 L703.21 302.5 L703.27 302.47M709.86 299.62 L710.09 299.52 L710.55 299.32 L710.87 299.18M770.68 275.62 L771.02 275.5 L771.49 275.33 L771.72 275.25M778.28 272.91 L778.56 272.82 L779.03 272.65 L779.32 272.55M785.89 270.26 L786.11 270.19 L786.58 270.02 L786.93 269.91M793.49 267.68 L793.69 267.61 L794.16 267.45 L794.53 267.32M861.91 246.96 L862.11 246.9 L862.59 246.77 L862.97 246.67M869.51 244.93 L869.84 244.84 L870.32 244.71 L870.58 244.65M877.12 242.95 L877.58 242.83 L878.07 242.7 L878.18 242.67M884.72 241.02 L884.85 240.98 L885.34 240.86 L885.79 240.75M953.15 225.78 L953.17 225.78 L953.66 225.68 L954.15 225.58 L954.23 225.57M960.75 224.31 L961.03 224.25 L961.52 224.16 L961.83 224.1M968.35 222.88 L968.4 222.87 L968.89 222.78 L969.38 222.69 L969.43 222.68M975.96 221.49 L976.27 221.43 L976.76 221.34 L977.04 221.29M1044.39 210.64 L1044.41 210.63 L1044.91 210.56 L1045.4 210.5 L1045.48 210.49M1051.99 209.6 L1052.34 209.56 L1052.83 209.49 L1053.08 209.46M1059.59 208.61 L1059.78 208.58 L1060.27 208.52 L1060.68 208.47M1067.2 207.65 L1067.22 207.64 L1067.71 207.58 L1068.21 207.52 L1068.29 207.51M1135.63 200.92 L1135.88 200.9 L1136.38 200.86 L1136.72 200.84M1143.23 200.41 L1143.36 200.4 L1143.86 200.37 L1144.33 200.34M1150.83 199.95 L1150.85 199.95 L1151.35 199.92 L1151.85 199.9 L1151.93 199.89M1158.44 199.55 L1158.84 199.53 L1159.34 199.51 L1159.54 199.5M1226.87 198.63 L1227.32 198.64 L1227.82 198.65 L1227.97 198.66M1234.47 198.85 L1234.81 198.87 L1235.31 198.88 L1235.57 198.89M1242.08 199.15 L1242.31 199.16 L1242.81 199.18 L1243.18 199.2M1249.68 199.51 L1249.8 199.52 L1250.3 199.55 L1250.78 199.57M1257.29 199.95 L1257.78 199.98 L1258.28 200.02 L1258.38 200.02M1318.34 216.88 L1318.4 216.96 L1318.69 217.36 L1318.97 217.78 L1318.97 217.78M570.96 371.9 L571.37 371.64 L571.8 371.38 L571.89 371.31M652.96 326.04 L653.41 325.82 L653.86 325.6 L653.95 325.55M739.35 287.46 L739.68 287.33 L740.14 287.15 L740.37 287.06M828.28 256.58 L828.46 256.52 L828.94 256.38 L829.33 256.26M918.36 233.06 L918.43 233.05 L918.91 232.94 L919.4 232.83 L919.43 232.83M1009.36 215.83 L1009.79 215.76 L1010.28 215.68 L1010.45 215.66M1101.76 203.79 L1102 203.77 L1102.5 203.72 L1102.85 203.68M1194.84 198.43 L1195.32 198.42 L1195.82 198.42 L1195.94 198.42M1287.94 203.21 L1288.09 203.24 L1288.58 203.33 L1289.02 203.42" fill="none" stroke="#fff" stroke-width="1.0" stroke-opacity="0.9"/>
<g fill="#fff" stroke="#808080" stroke-width="3.4"><circle cx="161.57" cy="1033.11" r="4.95"/><circle cx="168.99" cy="1031.04" r="4.95"/><circle cx="176.41" cy="1029.09" r="4.95"/><circle cx="183.82" cy="1027.07" r="4.95"/><circle cx="191.24" cy="1024.79" r="4.95"/><circle cx="198.66" cy="1022.06" r="4.95"/><circle cx="206.08" cy="1018.7" r="4.95"/><circle cx="213.5" cy="1014.51" r="4.95"/><circle cx="220.92" cy="1009.31" r="4.95"/><circle cx="228.34" cy="1002.94" r="4.95"/><circle cx="235.76" cy="995.48" r="4.95"/><circle cx="243.18" cy="987.1" r="4.95"/><circle cx="250.6" cy="977.97" r="4.95"/><circle cx="257.99" cy="968.28" r="4.95"/><circle cx="265.38" cy="958.17" r="4.95"/><circle cx="272.77" cy="947.8" r="4.95"/><circle cx="280.16" cy="937.29" r="4.95"/><circle cx="287.56" cy="926.63" r="4.95"/><circle cx="294.95" cy="915.77" r="4.95"/><circle cx="302.34" cy="904.68" r="4.95"/><circle cx="309.73" cy="893.32" r="4.95"/><circle cx="317.12" cy="881.65" r="4.95"/><circle cx="324.51" cy="869.64" r="4.95"/><circle cx="331.9" cy="857.24" r="4.95"/><circle cx="339.29" cy="844.41" r="4.95"/><circle cx="346.68" cy="831.15" r="4.95"/><circle cx="354.08" cy="817.41" r="4.95"/><circle cx="361.47" cy="803.2" r="4.95"/><circle cx="368.86" cy="788.48" r="4.95"/><circle cx="376.25" cy="773.3" r="4.95"/><circle cx="383.64" cy="757.96" r="4.95"/><circle cx="391.13" cy="742.64" r="4.95"/><circle cx="398.62" cy="727.79" r="4.95"/><circle cx="406.1" cy="713.36" r="4.95"/><circle cx="413.59" cy="699.24" r="4.95"/><circle cx="421.08" cy="685.29" r="4.95"/><circle cx="428.56" cy="671.44" r="4.95"/><circle cx="436.05" cy="657.68" r="4.95"/><circle cx="443.54" cy="644.04" r="4.95"/><circle cx="451.03" cy="630.54" r="4.95"/><circle cx="458.51" cy="617.24" r="4.95"/><circle cx="466" cy="604.25" r="4.95"/><circle cx="473.49" cy="591.7" r="4.95"/><circle cx="480.98" cy="579.73" r="4.95"/><circle cx="488.46" cy="568.45" r="4.95"/><circle cx="495.95" cy="557.88" r="4.95"/><circle cx="503.44" cy="548.01" r="4.95"/><circle cx="510.92" cy="538.82" r="4.95"/><circle cx="518.41" cy="530.11" r="4.95"/><circle cx="525.9" cy="521.68" r="4.95"/><circle cx="533.44" cy="513.26" r="4.95"/><circle cx="540.98" cy="504.75" r="4.95"/><circle cx="548.52" cy="496.23" r="4.95"/><circle cx="556.06" cy="487.82" r="4.95"/><circle cx="563.6" cy="479.62" r="4.95"/><circle cx="571.14" cy="471.63" r="4.95"/><circle cx="578.68" cy="463.82" r="4.95"/><circle cx="586.23" cy="456.19" r="4.95"/><circle cx="593.77" cy="448.7" r="4.95"/><circle cx="601.31" cy="441.35" r="4.95"/><circle cx="608.85" cy="434.1" r="4.95"/><circle cx="616.43" cy="426.92" r="4.95"/><circle cx="624.01" cy="419.84" r="4.95"/><circle cx="631.58" cy="412.9" r="4.95"/><circle cx="639.16" cy="406.11" r="4.95"/><circle cx="646.74" cy="399.49" r="4.95"/><circle cx="654.32" cy="393.07" r="4.95"/><circle cx="661.9" cy="386.87" r="4.95"/><circle cx="669.48" cy="380.9" r="4.95"/><circle cx="677.06" cy="375.19" r="4.95"/><circle cx="684.64" cy="369.7" r="4.95"/><circle cx="692.22" cy="364.4" r="4.95"/><circle cx="699.79" cy="359.25" r="4.95"/><circle cx="707.37" cy="354.23" r="4.95"/><circle cx="714.97" cy="349.28" r="4.95"/><circle cx="722.56" cy="344.39" r="4.95"/><circle cx="730.16" cy="339.52" r="4.95"/><circle cx="737.75" cy="334.69" r="4.95"/><circle cx="745.35" cy="329.91" r="4.95"/><circle cx="752.94" cy="325.19" r="4.95"/><circle cx="760.53" cy="320.55" r="4.95"/><circle cx="768.13" cy="316" r="4.95"/><circle cx="775.72" cy="311.56" r="4.95"/><circle cx="783.32" cy="307.24" r="4.95"/><circle cx="790.91" cy="303.04" r="4.95"/><circle cx="798.51" cy="298.96" r="4.95"/><circle cx="806.1" cy="295" r="4.95"/><circle cx="813.7" cy="291.17" r="4.95"/><circle cx="821.29" cy="287.44" r="4.95"/><circle cx="828.88" cy="283.84" r="4.95"/><circle cx="836.48" cy="280.34" r="4.95"/><circle cx="844.07" cy="276.95" r="4.95"/><circle cx="851.67" cy="273.67" r="4.95"/><circle cx="859.26" cy="270.5" r="4.95"/><circle cx="866.86" cy="267.42" r="4.95"/><circle cx="874.45" cy="264.45" r="4.95"/><circle cx="882.05" cy="261.58" r="4.95"/><circle cx="889.64" cy="258.81" r="4.95"/><circle cx="897.24" cy="256.13" r="4.95"/><circle cx="904.83" cy="253.54" r="4.95"/><circle cx="912.42" cy="251.04" r="4.95"/><circle cx="920.02" cy="248.63" r="4.95"/><circle cx="927.61" cy="246.31" r="4.95"/><circle cx="935.21" cy="244.07" r="4.95"/><circle cx="942.8" cy="241.91" r="4.95"/><circle cx="950.4" cy="239.84" r="4.95"/><circle cx="957.99" cy="237.84" r="4.95"/><circle cx="965.59" cy="235.93" r="4.95"/><circle cx="973.18" cy="234.1" r="4.95"/><circle cx="980.8" cy="232.34" r="4.95"/><circle cx="988.43" cy="230.66" r="4.95"/><circle cx="996.05" cy="229.07" r="4.95"/><circle cx="1003.68" cy="227.56" r="4.95"/><circle cx="1011.3" cy="226.13" r="4.95"/><circle cx="1018.93" cy="224.78" r="4.95"/><circle cx="1026.55" cy="223.51" r="4.95"/><circle cx="1034.18" cy="222.33" r="4.95"/><circle cx="1041.8" cy="221.22" r="4.95"/><circle cx="1049.43" cy="220.2" r="4.95"/><circle cx="1057.05" cy="219.26" r="4.95"/><circle cx="1064.68" cy="218.4" r="4.95"/><circle cx="1072.3" cy="217.62" r="4.95"/><circle cx="1079.93" cy="216.93" r="4.95"/><circle cx="1087.55" cy="216.31" r="4.95"/><circle cx="1095.18" cy="215.78" r="4.95"/><circle cx="1102.8" cy="215.33" r="4.95"/><circle cx="1110.43" cy="214.96" r="4.95"/><circle cx="1118.05" cy="214.67" r="4.95"/><circle cx="1125.68" cy="214.47" r="4.95"/><circle cx="1133.3" cy="214.34" r="4.95"/><circle cx="1140.93" cy="214.3" r="4.95"/><circle cx="1148.55" cy="214.33" r="4.95"/><circle cx="1156.18" cy="214.45" r="4.95"/><circle cx="1163.8" cy="214.65" r="4.95"/><circle cx="1171.43" cy="214.93" r="4.95"/><circle cx="1179.12" cy="215.3" r="4.95"/><circle cx="1186.81" cy="215.75" r="4.95"/><circle cx="1194.5" cy="216.28" r="4.95"/><circle cx="1202.19" cy="216.9" r="4.95"/><circle cx="1209.88" cy="217.59" r="4.95"/><circle cx="1217.58" cy="218.37" r="4.95"/><circle cx="1225.27" cy="219.24" r="4.95"/><circle cx="1232.96" cy="220.2" r="4.95"/><circle cx="1240.65" cy="221.28" r="4.95"/><circle cx="1248.34" cy="222.49" r="4.95"/><circle cx="1256.03" cy="223.85" r="4.95"/><circle cx="1263.72" cy="225.38" r="4.95"/><circle cx="1271.41" cy="227.08" r="4.95"/><circle cx="1279.11" cy="228.98" r="4.95"/><circle cx="1286.8" cy="231.1" r="4.95"/><circle cx="1294.49" cy="233.45" r="4.95"/><circle cx="1302.18" cy="236.05" r="4.95"/><circle cx="1309.87" cy="238.91" r="4.95"/><circle cx="1317.56" cy="242.05" r="4.95"/><circle cx="1325.25" cy="245.48" r="4.95"/></g>
</g></g>
<g fill="#000">
<rect x="145" y="33" width="1358" height="4"/>
<rect x="145" y="1038" width="1358" height="4"/>
<rect x="164.75" y="33" width="4.5" height="1026"/>
<rect x="1498.5" y="33" width="4.5" height="1009"/>
<rect x="145" y="913" width="20" height="4"/>
<rect x="145" y="787.8" width="20" height="4"/>
<rect x="145" y="662" width="20" height="4"/>
<rect x="145" y="536.9" width="20" height="4"/>
<rect x="145" y="410.4" width="20" height="4"/>
<rect x="145" y="283.9" width="20" height="4"/>
<rect x="145" y="158" width="20" height="4"/>
<rect x="156" y="975.4" width="9" height="4"/>
<rect x="156" y="850.4" width="9" height="4"/>
<rect x="156" y="724.9" width="9" height="4"/>
<rect x="156" y="599.45" width="9" height="4"/>
<rect x="156" y="473.65" width="9" height="4"/>
<rect x="156" y="347.15" width="9" height="4"/>
<rect x="156" y="220.95" width="9" height="4"/>
<rect x="156" y="95.5" width="9" height="4"/>
<rect x="256.38" y="1040" width="4.2" height="9"/>
<rect x="347.95" y="1040" width="4.2" height="19"/>
<rect x="440.07" y="1040" width="4.2" height="9"/>
<rect x="532.2" y="1040" width="4.2" height="19"/>
<rect x="624.25" y="1040" width="4.2" height="9"/>
<rect x="716.3" y="1040" width="4.2" height="19"/>
<rect x="808.8" y="1040" width="4.2" height="9"/>
<rect x="901.3" y="1040" width="4.2" height="19"/>
<rect x="993.1" y="1040" width="4.2" height="9"/>
<rect x="1084.9" y="1040" width="4.2" height="19"/>
<rect x="1176.9" y="1040" width="4.2" height="9"/>
<rect x="1268.9" y="1040" width="4.2" height="19"/>
<rect x="1360.9" y="1040" width="4.2" height="9"/>
<rect x="1452.9" y="1040" width="4.2" height="19"/>
</g>
<g fill="#000">
<text transform="translate(108.89 1051.63) scale(1.0506 1)" font-family="'Liberation Serif', 'Times New Roman', serif" font-weight="normal" font-size="43.68">0</text>
<text transform="translate(63.01 926.83) scale(1.0506 1)" font-family="'Liberation Serif', 'Times New Roman', serif" font-weight="normal" font-size="43.68">100</text>
<text transform="translate(63.01 801.63) scale(1.0506 1)" font-family="'Liberation Serif', 'Times New Roman', serif" font-weight="normal" font-size="43.68">200</text>
<text transform="translate(63.01 675.83) scale(1.0506 1)" font-family="'Liberation Serif', 'Times New Roman', serif" font-weight="normal" font-size="43.68">300</text>
<text transform="translate(63.01 550.73) scale(1.0506 1)" font-family="'Liberation Serif', 'Times New Roman', serif" font-weight="normal" font-size="43.68">400</text>
<text transform="translate(63.01 424.23) scale(1.0506 1)" font-family="'Liberation Serif', 'Times New Roman', serif" font-weight="normal" font-size="43.68">500</text>
<text transform="translate(63.01 297.73) scale(1.0506 1)" font-family="'Liberation Serif', 'Times New Roman', serif" font-weight="normal" font-size="43.68">600</text>
<text transform="translate(63.01 171.83) scale(1.0506 1)" font-family="'Liberation Serif', 'Times New Roman', serif" font-weight="normal" font-size="43.68">700</text>
<text transform="translate(63.01 46.83) scale(1.0506 1)" font-family="'Liberation Serif', 'Times New Roman', serif" font-weight="normal" font-size="43.68">800</text>
<text transform="translate(126.17 1104.87) scale(1.0473 1)" font-family="'Liberation Serif', 'Times New Roman', serif" font-weight="normal" font-size="43.90">0.00</text>
<text transform="translate(309.55 1104.87) scale(1.0473 1)" font-family="'Liberation Serif', 'Times New Roman', serif" font-weight="normal" font-size="43.90">0.02</text>
<text transform="translate(492.88 1104.87) scale(1.0473 1)" font-family="'Liberation Serif', 'Times New Roman', serif" font-weight="normal" font-size="43.90">0.04</text>
<text transform="translate(677.44 1104.87) scale(1.0473 1)" font-family="'Liberation Serif', 'Times New Roman', serif" font-weight="normal" font-size="43.90">0.06</text>
<text transform="translate(862.67 1104.87) scale(1.0473 1)" font-family="'Liberation Serif', 'Times New Roman', serif" font-weight="normal" font-size="43.90">0.08</text>
<text transform="translate(1046.27 1104.87) scale(1.0473 1)" font-family="'Liberation Serif', 'Times New Roman', serif" font-weight="normal" font-size="43.90">0.10</text>
<text transform="translate(1230.5 1104.87) scale(1.0473 1)" font-family="'Liberation Serif', 'Times New Roman', serif" font-weight="normal" font-size="43.90">0.12</text>
<text transform="translate(1413.58 1104.87) scale(1.0473 1)" font-family="'Liberation Serif', 'Times New Roman', serif" font-weight="normal" font-size="43.90">0.14</text>
<text transform="translate(44.78 653.26) scale(1.0839 1) rotate(-90)" font-family="'Liberation Serif', 'Times New Roman', serif" font-weight="bold" font-size="47.21">Stress/MPa</text>
<text transform="translate(722.94 1153.6) scale(1.0758 1)" font-family="'Liberation Serif', 'Times New Roman', serif" font-weight="bold" font-size="47.58">Strain/%</text>
<text transform="translate(318.57 87.85) scale(1.0600 1)" font-family="'Liberation Serif', 'Times New Roman', serif" font-weight="bold" font-size="57.35">0.5mm/s</text>
<text transform="translate(318.12 158.87) scale(1.0822 1)" font-family="'Liberation Serif', 'Times New Roman', serif" font-weight="bold" font-size="56.32">1mm/s</text>
<text transform="translate(318.57 230.12) scale(1.0780 1)" font-family="'Liberation Serif', 'Times New Roman', serif" font-weight="bold" font-size="56.40">2mm/s</text>
<text transform="translate(300.5 377) scale(1.0381 1)" font-family="'Liberation Serif', 'Times New Roman', serif" font-weight="bold" font-size="38.77">Elastic stage</text>
<text transform="translate(671.18 718) scale(1.0366 1)" font-family="'Liberation Serif', 'Times New Roman', serif" font-weight="bold" font-size="39.38">Yield stage</text>
<text transform="translate(1028.99 716.6) scale(1.0197 1)" font-family="'Liberation Serif', 'Times New Roman', serif" font-weight="bold" font-size="39.69">Failure stage</text>
<text transform="translate(1276.78 364.8) scale(1.0200 1)" font-family="'Liberation Serif', 'Times New Roman', serif" font-weight="bold" font-size="35.08">Residual stage</text>
<text transform="translate(258.38 376.66) scale(1.1181 1)" font-family="'Noto Sans CJK SC', 'Noto Sans CJK JP', sans-serif" font-weight="normal" font-size="28.83" stroke="#000" stroke-width="0.5">①</text>
<ellipse transform="translate(274.5 365.7) scale(1.1159 1)" cx="0" cy="0" rx="12.53" ry="12.53" fill="none" stroke="#000" stroke-width="2.55"/>
<text transform="translate(629.87 715.96) scale(1.1333 1)" font-family="'Noto Sans CJK SC', 'Noto Sans CJK JP', sans-serif" font-weight="normal" font-size="28.72" stroke="#000" stroke-width="0.5">②</text>
<ellipse transform="translate(646.15 705.05) scale(1.1309 1)" cx="0" cy="0" rx="12.47" ry="12.47" fill="none" stroke="#000" stroke-width="2.55"/>
<text transform="translate(991.17 712.6) scale(1.1541 1)" font-family="'Noto Sans CJK SC', 'Noto Sans CJK JP', sans-serif" font-weight="normal" font-size="28.30" stroke="#000" stroke-width="0.5">③</text>
<ellipse transform="translate(1007.5 701.85) scale(1.1513 1)" cx="0" cy="0" rx="12.28" ry="12.28" fill="none" stroke="#000" stroke-width="2.55"/>
<text transform="translate(1240.3 363.8) scale(1.1165 1)" font-family="'Noto Sans CJK SC', 'Noto Sans CJK JP', sans-serif" font-weight="normal" font-size="28.30" stroke="#000" stroke-width="0.5">④</text>
<ellipse transform="translate(1256.1 353.05) scale(1.1144 1)" cx="0" cy="0" rx="12.28" ry="12.28" fill="none" stroke="#000" stroke-width="2.55"/>
</g>
<g transform="scale(1.085 1)">
<path d="M216.87 61.75 L218.61 67.11 L224.24 67.11 L219.68 70.41 L221.42 75.77 L216.87 72.46 L212.31 75.77 L214.05 70.41 L209.5 67.11 L215.13 67.11Z" fill="none" stroke="#ff1090" stroke-width="0.8"/>
<path d="M153.92 140.6 L279.72 140.6" fill="none" stroke="#0000ff" stroke-width="6.7" stroke-linecap="round" stroke-dasharray="37.5 25.4 4.8 25.4"/>
</g>
<rect x="167.8" y="138.9" width="40.5" height="1.5" rx="0.75" fill="#fff"/>
<rect x="234.6" y="139.1" width="5.4" height="1.4" rx="0.7" fill="#fff"/>
<g transform="scale(1.085 1)">
<circle cx="216.68" cy="212.2" r="4.95" fill="#fff" stroke="#808080" stroke-width="3.4"/>
</g>
<g stroke="#00ff00" stroke-width="4.6" stroke-dasharray="4.2 3.9">
<line x1="534.4" y1="96.6" x2="534.4" y2="1040.5"/>
<line x1="899.2" y1="96.6" x2="899.2" y2="1040.5"/>
<line x1="1271.5" y1="96.6" x2="1271.5" y2="1040.5"/>
<line x1="1452.6" y1="96.6" x2="1452.6" y2="1040.5"/>
</g>
<g fill="#000">
<rect x="165" y="555.2" width="1312" height="2.6"/>
<path d="M161.5 556.4 L194 549.4 L194 563.4 Z"/>
<path d="M532 556.5 L503.75 549.9 L503.75 563.1 Z"/>
<path d="M894 557.8 L921.7 551 L921.7 564.6 Z"/>
<path d="M1270.9 557.8 L1242.9 551 L1242.9 564.6 Z"/>
<path d="M1447.7 555 L1477.2 548.4 L1477.2 561.6 Z"/>
</g>
</svg></body></html>
